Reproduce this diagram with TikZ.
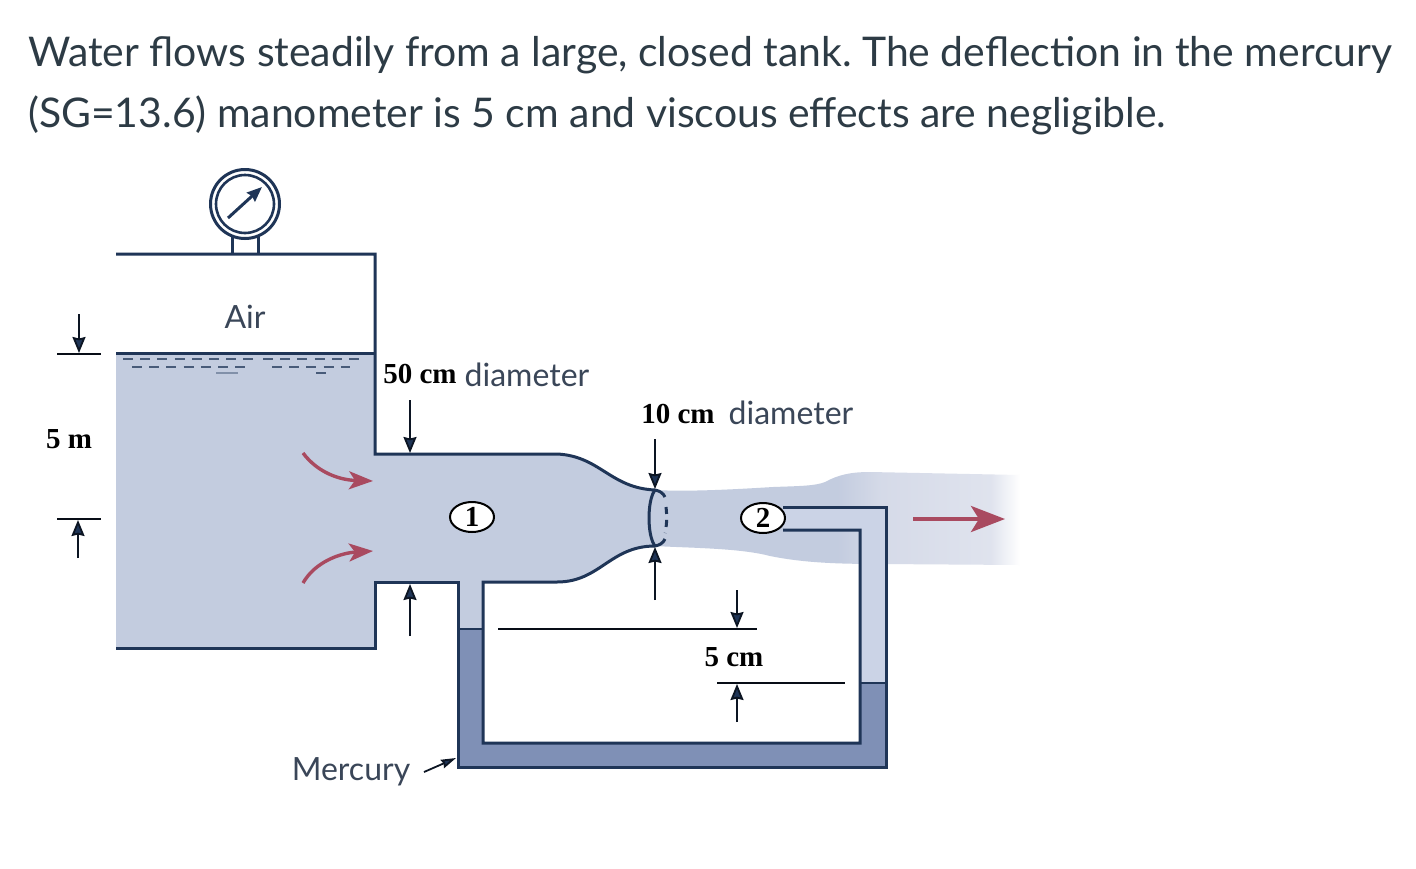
\documentclass[tikz,border=0pt]{standalone}
\usepackage{fontspec}
\setmainfont{Lato}
\newfontfamily\serifb[BoldFont=Liberation Serif Bold]{Liberation Serif}
\usetikzlibrary{arrows.meta,shapes.geometric}
\definecolor{linec}{HTML}{1F3557}
\definecolor{waterc}{HTML}{C3CCDF}
\definecolor{pipec}{HTML}{CBD3E6}
\definecolor{mercc}{HTML}{7F90B6}
\definecolor{redc}{HTML}{A94A60}
\definecolor{textc}{HTML}{2D3B45}
\definecolor{labelc}{HTML}{3A4658}
\definecolor{jetmid}{HTML}{D5DAE8}
\pgfdeclarehorizontalshading{jetshade}{100bp}{color(0bp)=(waterc); color(50bp)=(waterc); color(56bp)=(jetmid); color(71bp)=(jetmid!75!white); color(75bp)=(white); color(100bp)=(white)}
\tikzset{
  x=1pt,y=-1pt,
  wall/.style={draw=linec,line width=3pt,line join=miter},
  dimline/.style={draw=black!75!linec,line width=1.8pt},
  dimarrow/.style={draw=black!60!linec,line width=1.8pt,-{Stealth[length=16pt,width=13pt,inset=1.5pt,fill=linec]}},
  redarrow/.style={draw=redc,line width=3.4pt,-{Stealth[length=24pt,width=18pt,inset=6pt]}},
  para/.style={anchor=base west,inner sep=0pt,font=\frenchspacing\fontsize{40.9}{41}\selectfont,text=textc},
  sanslabel/.style={inner sep=0pt,font=\fontsize{32}{32}\selectfont,text=labelc},
  serlabel/.style={inner sep=0pt,font=\serifb\bfseries\fontsize{29}{29}\selectfont,text=black},
  station/.style={draw=black,line width=2pt,fill=white,ellipse,minimum width=44pt,minimum height=30pt,inner sep=0pt,font=\serifb\bfseries\fontsize{29}{29}\selectfont},
  surfdash/.style={draw=linec!75!waterc,line width=2.4pt,dash pattern=on 10pt off 7.2pt},
}
\begin{document}
\begin{tikzpicture}
\useasboundingbox (0,0) rectangle (1416,868);
\fill[white] (0,0) rectangle (1416,868);
% text
\node[para] (t1) at (28,66) {Water flows steadily from a large, closed tank. The deflection in the mercury};
\node[para] (t2) at (28,127) {(SG=13.6) manometer is 5 cm and viscous effects are negligible.};
% jet
\shade[shading=jetshade,draw=none]
  (655,490) .. controls (690,492) and (740,489) .. (773,487)
  .. controls (800,486) and (815,486) .. (825,482)
  .. controls (838,475) and (850,472) .. (870,472)
  -- (1020,475) -- (1020,565) -- (880,564)
  .. controls (830,564) and (800,562) .. (770,556)
  .. controls (740,548) and (690,548) .. (655,546) -- cycle;
% water body
\fill[waterc] (116,353) -- (375,353) -- (375,454) -- (557,454)
  .. controls (600,456) and (610,488) .. (655,490)
  -- (655,546) .. controls (610,546) and (600,582) .. (557,582)
  -- (483,582) -- (483,629) -- (458,629) -- (458,582) -- (375,582) -- (375,648) -- (116,648) -- cycle;
% manometer fill
\fill[pipec] (783,507) -- (886,507) -- (886,683) -- (860,683) -- (860,530) -- (783,530) -- cycle;
\fill[mercc] (458,629) -- (483,629) -- (483,743) -- (860,743) -- (860,683) -- (886,683) -- (886,767) -- (458,767) -- cycle;
% walls
\draw[wall] (116,254) -- (375,254) -- (375,454) -- (557,454)
  .. controls (600,456) and (610,488) .. (655,490);
\draw[wall] (655,546) .. controls (610,546) and (600,582) .. (557,582) -- (483,582) -- (483,743) -- (860,743) -- (860,530) -- (783,530);
\draw[wall] (783,507) -- (886,507) -- (886,767) -- (458,767) -- (458,582) -- (375,582) -- (375,648) -- (116,648);
\draw[wall] (116,353) -- (375,353);
\draw[wall,line width=2.4pt] (458,629) -- (483,629);
\draw[wall,line width=2.4pt] (860,683) -- (886,683);
% surface dashes
\draw[surfdash] (123,359) -- (257,359);
\draw[surfdash] (263,359) -- (360,359);
\draw[surfdash] (132,367) -- (247,367);
\draw[surfdash] (272,367) -- (350,367);
\draw[draw=linec!40!waterc,line width=1.4pt] (216,373) -- (238,373);
\draw[draw=linec!75!waterc,line width=2.4pt] (316,373) -- (326,373);
% vena contracta
\draw[wall] (655,490) .. controls (647,500) and (647,536) .. (655,546);
\draw[wall] (655,490) .. controls (660,491) and (663,493) .. (665,497);
\draw[wall] (655,546) .. controls (660,545) and (663,543) .. (665,539);
\draw[wall,dash pattern=on 7pt off 6pt] (666,507) .. controls (667,515) and (667,525) .. (665,533);
% gauge
\draw[wall,line width=3pt] (232,236) -- (232,254);
\draw[wall,line width=3pt] (258,236) -- (258,254);
\draw[wall,line width=3pt,fill=white] (245,204) circle (34.5);
\draw[wall,line width=2.6pt] (245,204) circle (29);
\coordinate (needleA) at (228,218);
\coordinate (needleC) at (262,187);
\draw[draw=linec,line width=3pt,-{Stealth[length=15pt,width=12pt,inset=1.5pt]}] (needleA) -- (needleC);
% dimensions
\coordinate (a1) at (79,314); \coordinate (a1e) at (79,353);
\coordinate (a2) at (78,558); \coordinate (a2e) at (78,520);
\draw[dimline] (57,354) -- (101,354);
\draw[dimline] (57,519) -- (101,519);
\draw[dimarrow] (a1) -- (a1e);
\draw[dimarrow] (a2) -- (a2e);
\coordinate (b1) at (410,400); \coordinate (b1e) at (410,453);
\coordinate (b2) at (410,636); \coordinate (b2e) at (410,584);
\draw[dimarrow] (b1) -- (b1e);
\draw[dimarrow] (b2) -- (b2e);
\coordinate (c1) at (655,439); \coordinate (c1e) at (655,489);
\coordinate (c2) at (655,600); \coordinate (c2e) at (655,547);
\draw[dimarrow] (c1) -- (c1e);
\draw[dimarrow] (c2) -- (c2e);
\coordinate (d1) at (737,590); \coordinate (d1e) at (737,628);
\coordinate (d2) at (737,722); \coordinate (d2e) at (737,684);
\draw[dimline] (498,629) -- (757,629);
\draw[dimline] (717,683) -- (845,683);
\draw[dimarrow] (d1) -- (d1e);
\draw[dimarrow] (d2) -- (d2e);
\coordinate (m1) at (424,772); \coordinate (m2) at (456,758);
\draw[dimarrow,-{Stealth[length=15pt,width=9pt,inset=1.5pt,fill=linec]}] (m1) -- (m2);
% red arrows
\coordinate (r1) at (303,453); \coordinate (r1e) at (373,481);
\coordinate (r2) at (303,583); \coordinate (r2e) at (373,551);
\coordinate (r3) at (913,519); \coordinate (r3e) at (1005,519);
\draw[redarrow] (r1) .. controls (318,473) and (340,480) .. (r1e);
\draw[redarrow] (r2) .. controls (315,562) and (340,553) .. (r2e);
\draw[redarrow,line width=4pt,-{Stealth[length=34pt,width=26pt,inset=8pt]}] (r3) -- (r3e);
% labels
\node[sanslabel] (air) at (245,317) {Air};
\node[sanslabel] (merc) at (351,772) {Mercury};
\node[sanslabel] (dia1) at (527,375) {diameter};
\node[sanslabel] (dia2) at (791,413) {diameter};
\node[serlabel] (five) at (69,439) {5 m};
\node[serlabel] (fifty) at (420,374) {50 cm};
\node[serlabel] (ten) at (678,414) {10 cm};
\node[serlabel] (fivecm) at (734,657) {5 cm};
\node[station] (s1) at (472,517) {1};
\node[station] (s2) at (763,518) {2};
\end{tikzpicture}
\end{document}
